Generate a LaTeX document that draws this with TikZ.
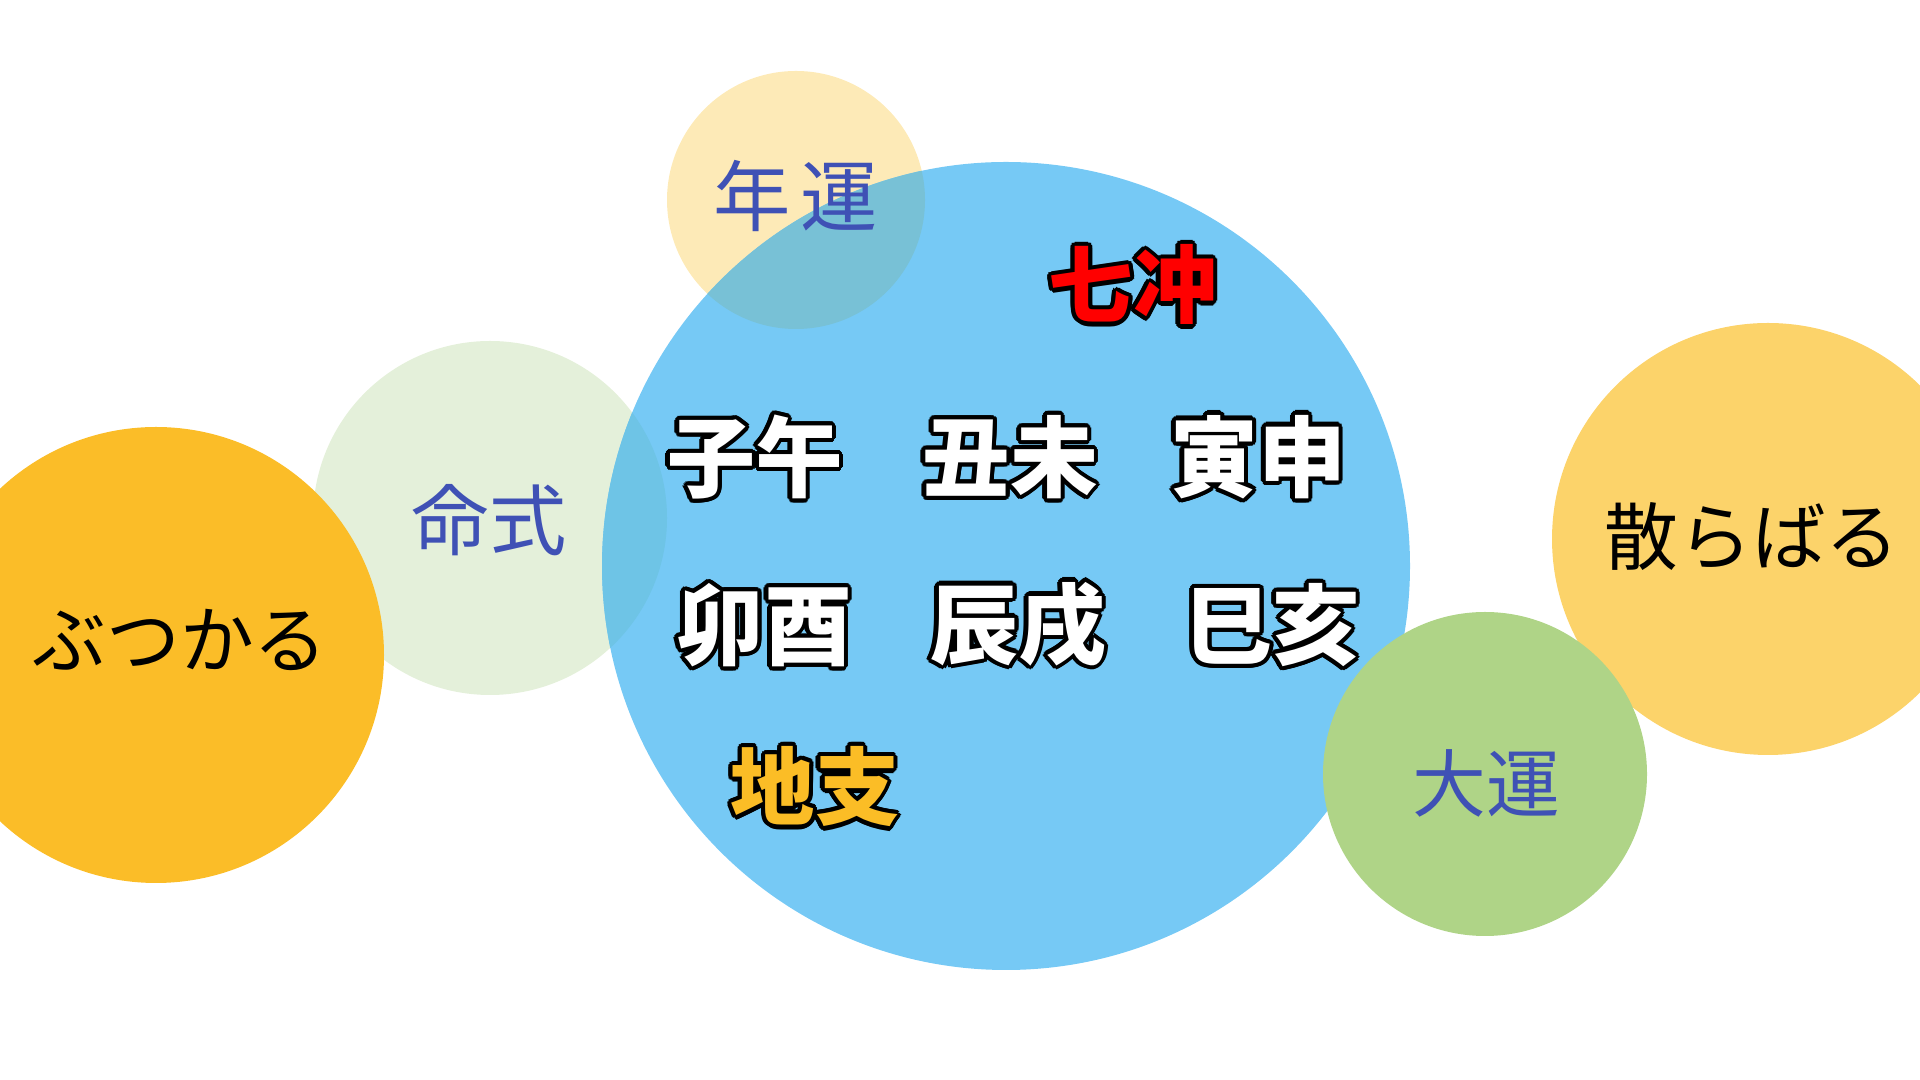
\documentclass[tikz,border=0pt]{standalone}
\usepackage{fontspec}
\newfontfamily\jpfont{Noto Sans CJK JP}
\usepackage{contour}
\contourlength{1.2pt}
\definecolor{bigblue}{HTML}{76C9F5}
\definecolor{nenyellow}{HTML}{FDEAB7}
\definecolor{meigreen}{HTML}{E4F0DA}
\definecolor{butsuorange}{HTML}{FBBD28}
\definecolor{chiraorange}{HTML}{FCD36A}
\definecolor{daigreen}{HTML}{AFD487}
\definecolor{nenoverlap}{HTML}{78C1D6}
\definecolor{meioverlap}{HTML}{6EC4E6}
\definecolor{unindigo}{HTML}{3F51B5}
\definecolor{chishigold}{HTML}{FBBD26}

\begin{document}
\begin{tikzpicture}[
    kanshi/.style={text=white, font=\jpfont\bfseries\fontsize{25}{30}\selectfont},
    title/.style={font=\jpfont\bfseries\fontsize{24}{29}\selectfont},
    un/.style={text=unindigo, font=\jpfont\fontsize{22}{26}\selectfont},
    verb/.style={text=black, font=\jpfont\fontsize{21}{25}\selectfont}
  ]
    \useasboundingbox (0,0) rectangle (19.2,10.8);
    \clip (0,0) rectangle (19.2,10.8);
    % bubbles
    \coordinate (meiC) at (4.90,5.62);
    \coordinate (nenC) at (7.96,8.80);
    \coordinate (blueC) at (10.06,5.14);
    \fill[meigreen] (meiC) circle (1.77);
    \fill[nenyellow] (nenC) circle (1.29);
    \fill[bigblue] (blueC) circle (4.04);
    \begin{scope}
      \clip (nenC) circle (1.29);
      \fill[nenoverlap] (blueC) circle (4.04);
    \end{scope}
    \begin{scope}
      \clip (meiC) circle (1.77);
      \fill[meioverlap] (blueC) circle (4.04);
    \end{scope}
    \fill[butsuorange] (1.56,4.25) circle (2.28);
    \fill[chiraorange] (17.68,5.41) circle (2.16);
    \fill[daigreen] (14.85,3.06) circle (1.62);
    % labels
    \node[un] (nenun) at (7.96,8.84) {年\hspace{0.1cm}運};
    \node[un] (meishiki) at (4.89,5.60) {命式};
    \node[un, font=\jpfont\fontsize{21}{25}\selectfont] (daiun) at (14.86,2.97) {大運};
    \node[verb] (butsukaru) at (1.80,4.40) {ぶつかる};
    \node[verb] (chirabaru) at (17.52,5.43) {散らばる};
    \node[title, text=red] (shichichu) at (11.33,7.93) {\contour{black}{七冲}};
    \node[title, text=chishigold] (chishi) at (8.15,2.91) {\contour{black}{地支}};
    % pairs
    \foreach \pos/\name/\pair in {(7.55,6.21)/ne/子午, (10.10,6.21)/ushi/丑未,
        (12.58,6.21)/tora/寅申, (7.64,4.53)/u/卯酉, (10.18,4.53)/tatsu/辰戌,
        (12.72,4.53)/mi/巳亥}
    \node[kanshi] (\name) at \pos {\contour{black}{\pair}};
\end{tikzpicture}
\end{document}
